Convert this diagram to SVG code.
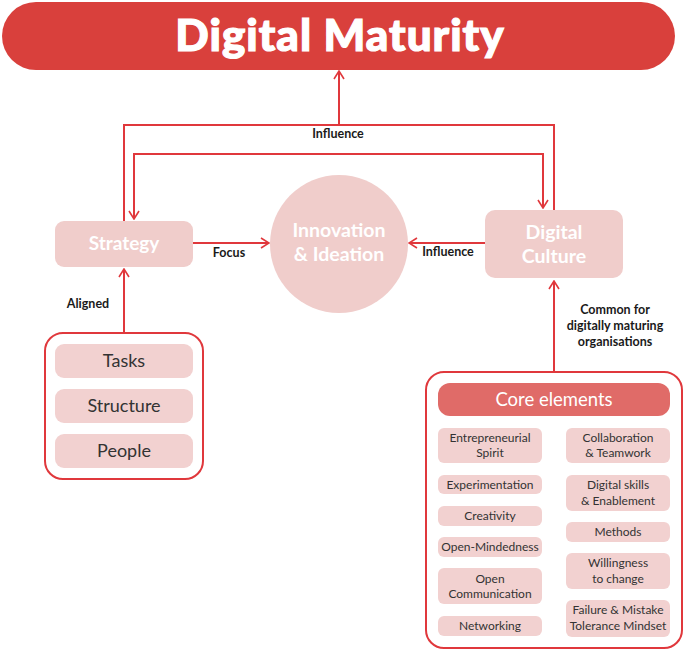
<svg xmlns="http://www.w3.org/2000/svg" width="685" height="652" viewBox="0 0 685 652">
<defs>
<marker id="arr" viewBox="0 0 10 12" refX="9" refY="6" markerWidth="10" markerHeight="12" markerUnits="userSpaceOnUse" orient="auto-start-reverse">
<path d="M1,1 L9,6 L1,11" fill="none" stroke="#e0383c" stroke-width="1.6"/>
</marker>
</defs>
<style>
.ln{fill:none;stroke:#e0383c;stroke-width:2}
.node{fill:#f0cdcb}
.item{fill:#f2d1d0}
.wt{fill:#ffffff;font-family:"Lato","Open Sans",sans-serif;font-weight:700;text-anchor:middle}
.lbl{fill:#1a1a1a;font-family:"Lato","Open Sans",sans-serif;font-weight:700;font-size:12.5px;text-anchor:middle}
.it{fill:#333333;font-family:"Lato","Open Sans",sans-serif;font-size:12px;text-anchor:middle}
.big{fill:#333333;font-family:"Lato","Open Sans",sans-serif;font-size:18px;text-anchor:middle}
.box{fill:#ffffff;stroke:#e0383c;stroke-width:2}
</style>
<rect width="685" height="652" fill="#ffffff"/>

<g id="connectors">
<path class="ln" d="M124,221 V125 H554 V210"/>
<path class="ln" d="M339,125 V71" marker-end="url(#arr)"/>
<path class="ln" d="M134,219 V154 H543 V208" marker-start="url(#arr)" marker-end="url(#arr)"/>
<path class="ln" d="M193,243 H269" marker-end="url(#arr)"/>
<path class="ln" d="M485,243 H409" marker-end="url(#arr)"/>
<path class="ln" d="M124,333 V269" marker-end="url(#arr)"/>
<path class="ln" d="M554,372 V281" marker-end="url(#arr)"/>
<text class="lbl" x="338" y="138">Influence</text>
<text class="lbl" x="229" y="257">Focus</text>
<text class="lbl" x="448" y="256">Influence</text>
<text class="lbl" x="88" y="308">Aligned</text>
<text class="lbl" x="615" y="314">Common for</text>
<text class="lbl" x="615" y="330">digitally maturing</text>
<text class="lbl" x="615" y="346">organisations</text>
</g>

<g id="digital-maturity">
<rect x="2" y="2" width="673" height="68" rx="34" fill="#d9403c"/>
<text class="wt" x="340" y="51" font-size="44" letter-spacing="1" stroke="#ffffff" stroke-width="1.2" style="font-weight:900">Digital Maturity</text>
</g>

<g id="strategy">
<rect class="node" x="55" y="221" width="138" height="46" rx="9"/>
<text class="wt" x="124" y="250" font-size="19">Strategy</text>
</g>

<g id="innovation">
<circle class="node" cx="339" cy="244" r="69"/>
<text class="wt" x="339" y="237" font-size="19.5">Innovation</text>
<text class="wt" x="339" y="261" font-size="19.5">&amp; Ideation</text>
</g>

<g id="digital-culture">
<rect class="node" x="485" y="210" width="138" height="68" rx="10"/>
<text class="wt" x="554" y="239" font-size="19.5">Digital</text>
<text class="wt" x="554" y="263" font-size="19.5">Culture</text>
</g>

<g id="org-elements">
<rect class="box" x="45" y="333" width="158" height="146" rx="18"/>
<rect class="item" x="55" y="344" width="138" height="34" rx="9"/>
<text class="big" x="124" y="367">Tasks</text>
<rect class="item" x="55" y="389" width="138" height="34" rx="9"/>
<text class="big" x="124" y="412">Structure</text>
<rect class="item" x="55" y="434" width="138" height="34" rx="9"/>
<text class="big" x="124" y="457">People</text>
</g>

<g id="core-elements">
<rect class="box" x="426" y="372" width="256" height="276" rx="18"/>
<rect x="438" y="383" width="232" height="33" rx="12" fill="#e06b68"/>
<text x="554" y="406" fill="#ffffff" font-family="Lato, 'Open Sans', sans-serif" font-size="18.5" text-anchor="middle">Core elements</text>

<rect class="item" x="438" y="428" width="104" height="35" rx="6"/>
<text class="it" x="490" y="442">Entrepreneurial</text>
<text class="it" x="490" y="457">Spirit</text>
<rect class="item" x="438" y="475" width="104" height="19" rx="6"/>
<text class="it" x="490" y="489">Experimentation</text>
<rect class="item" x="438" y="506" width="104" height="20" rx="6"/>
<text class="it" x="490" y="520">Creativity</text>
<rect class="item" x="438" y="537" width="104" height="20" rx="6"/>
<text class="it" x="490" y="551">Open-Mindedness</text>
<rect class="item" x="438" y="568" width="104" height="36" rx="6"/>
<text class="it" x="490" y="583">Open</text>
<text class="it" x="490" y="598">Communication</text>
<rect class="item" x="438" y="616" width="104" height="20" rx="6"/>
<text class="it" x="490" y="630">Networking</text>

<rect class="item" x="566" y="428" width="104" height="35" rx="6"/>
<text class="it" x="618" y="442">Collaboration</text>
<text class="it" x="618" y="457">&amp; Teamwork</text>
<rect class="item" x="566" y="475" width="104" height="36" rx="6"/>
<text class="it" x="618" y="489">Digital skills</text>
<text class="it" x="618" y="505">&amp; Enablement</text>
<rect class="item" x="566" y="522" width="104" height="20" rx="6"/>
<text class="it" x="618" y="536">Methods</text>
<rect class="item" x="566" y="553" width="104" height="36" rx="6"/>
<text class="it" x="618" y="567">Willingness</text>
<text class="it" x="618" y="583">to change</text>
<rect class="item" x="566" y="600" width="104" height="37" rx="6"/>
<text class="it" x="618" y="614">Failure &amp; Mistake</text>
<text class="it" x="618" y="630">Tolerance Mindset</text>
</g>
</svg>
